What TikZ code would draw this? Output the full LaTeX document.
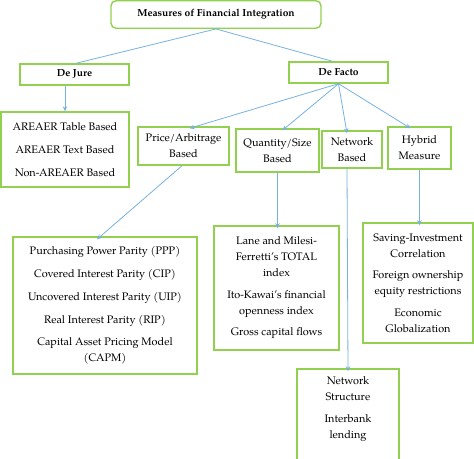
\documentclass[tikz,border=0pt]{standalone}
\usepackage{fontspec}
\setmainfont{TeX Gyre Pagella}
\usetikzlibrary{arrows.meta}
\definecolor{boxgreen}{RGB}{146,208,80}
\definecolor{lineblue}{RGB}{120,178,226}
\tikzset{
  box/.style={draw=boxgreen, line width=1.4pt, fill=white, inner sep=0pt, align=center, font=\fontsize{10.9}{15.8}\selectfont},
  hdr/.style={font=\bfseries\fontsize{10.2}{12}\selectfont},
  conn/.style={draw=lineblue, line width=0.8pt},
  arr/.style={conn, -{Stealth[length=5pt,width=4.5pt]}},
}
\begin{document}
\begin{tikzpicture}[x=1pt,y=-1pt]
\useasboundingbox (0,0) rectangle (474,458);
\clip (0,0) rectangle (474,458);
\fill[white] (0,0) rectangle (474,458);
% nodes
\node[box, hdr, rounded corners=5pt, minimum width=210pt, minimum height=27.5pt] (top) at (216,14.5) {Measures of Financial Integration};
\node[box, hdr, minimum width=109pt, minimum height=21pt] (dejure) at (74.5,74.5) {De Jure};
\node[box, hdr, minimum width=99pt, minimum height=21pt] (defacto) at (338.5,72.5) {De Facto};
\node[box, minimum width=128pt, minimum height=75pt] (areaer) at (65,149.5) {AREAER Table Based\\[7pt]AREAER Text Based\\[7pt]Non-AREAER Based};
\node[box, minimum width=91pt, minimum height=38pt] (price) at (183.5,146) {Price/Arbitrage\\Based};
\node[box, minimum width=83pt, minimum height=43pt] (quantity) at (277.5,150.5) {Quantity/Size\\Based};
\node[box, minimum width=60pt, minimum height=37pt] (network) at (352,149.5) {Network\\Based};
\node[box, minimum width=63pt, minimum height=42pt] (hybrid) at (419.5,148) {Hybrid\\Measure};
\node[box, minimum width=184pt, minimum height=137pt] (ppp) at (105,305.5) {Purchasing Power Parity (PPP)\\[7pt]Covered Interest Parity (CIP)\\[7pt]Uncovered Interest Parity (UIP)\\[7pt]Real Interest Parity (RIP)\\[7pt]Capital Asset Pricing Model\\(CAPM)};
\node[box, minimum width=125pt, minimum height=124pt] (lane) at (276.5,288) {Lane and Milesi-\\Ferretti's TOTAL\\index\\[6pt]Ito-Kawai's financial\\openness index\\[6pt]Gross capital flows};
\node[box, minimum width=110pt, minimum height=120pt] (saving) at (418,283) {Saving-Investment\\Correlation\\[6pt]Foreign ownership\\equity restrictions\\[6pt]Economic\\Globalization};
\node[box, minimum width=102pt, minimum height=101pt] (ns) at (348,419.5) {};
\node[align=center, inner sep=0pt, font=\fontsize{10.9}{15.8}\selectfont] (nstext) at (348,409) {Network\\Structure\\[6pt]Interbank\\lending};
% connectors
\draw[conn] (top.south) -- ([xshift=1.5pt]dejure.north);
\draw[conn] (top.south) -- ([xshift=-6pt]defacto.north);
\draw[arr] (areaer.north |- dejure.south) -- (areaer.north);
\draw[arr] (defacto.south) -- ([xshift=6pt,yshift=-2pt]price.north);
\draw[arr] (defacto.south) -- ([xshift=5pt,yshift=-2pt]quantity.north);
\draw[arr] (defacto.south) -- ([xshift=-5pt,yshift=-3pt]network.north);
\draw[arr] (defacto.south) -- ([xshift=-9pt,yshift=-2pt]hybrid.north);
\draw[arr] ([xshift=-1.5pt]price.south) -- ([xshift=-8pt,yshift=-3pt]ppp.north);
\draw[arr] (quantity.south) -- ([yshift=-3pt]quantity.south |- lane.north);
\draw[arr] ([xshift=-5pt]network.south) -- ([yshift=-3pt]ns.north);
\draw[arr] (hybrid.south) -- ([yshift=-3pt]hybrid.south |- saving.north);
\end{tikzpicture}
\end{document}
